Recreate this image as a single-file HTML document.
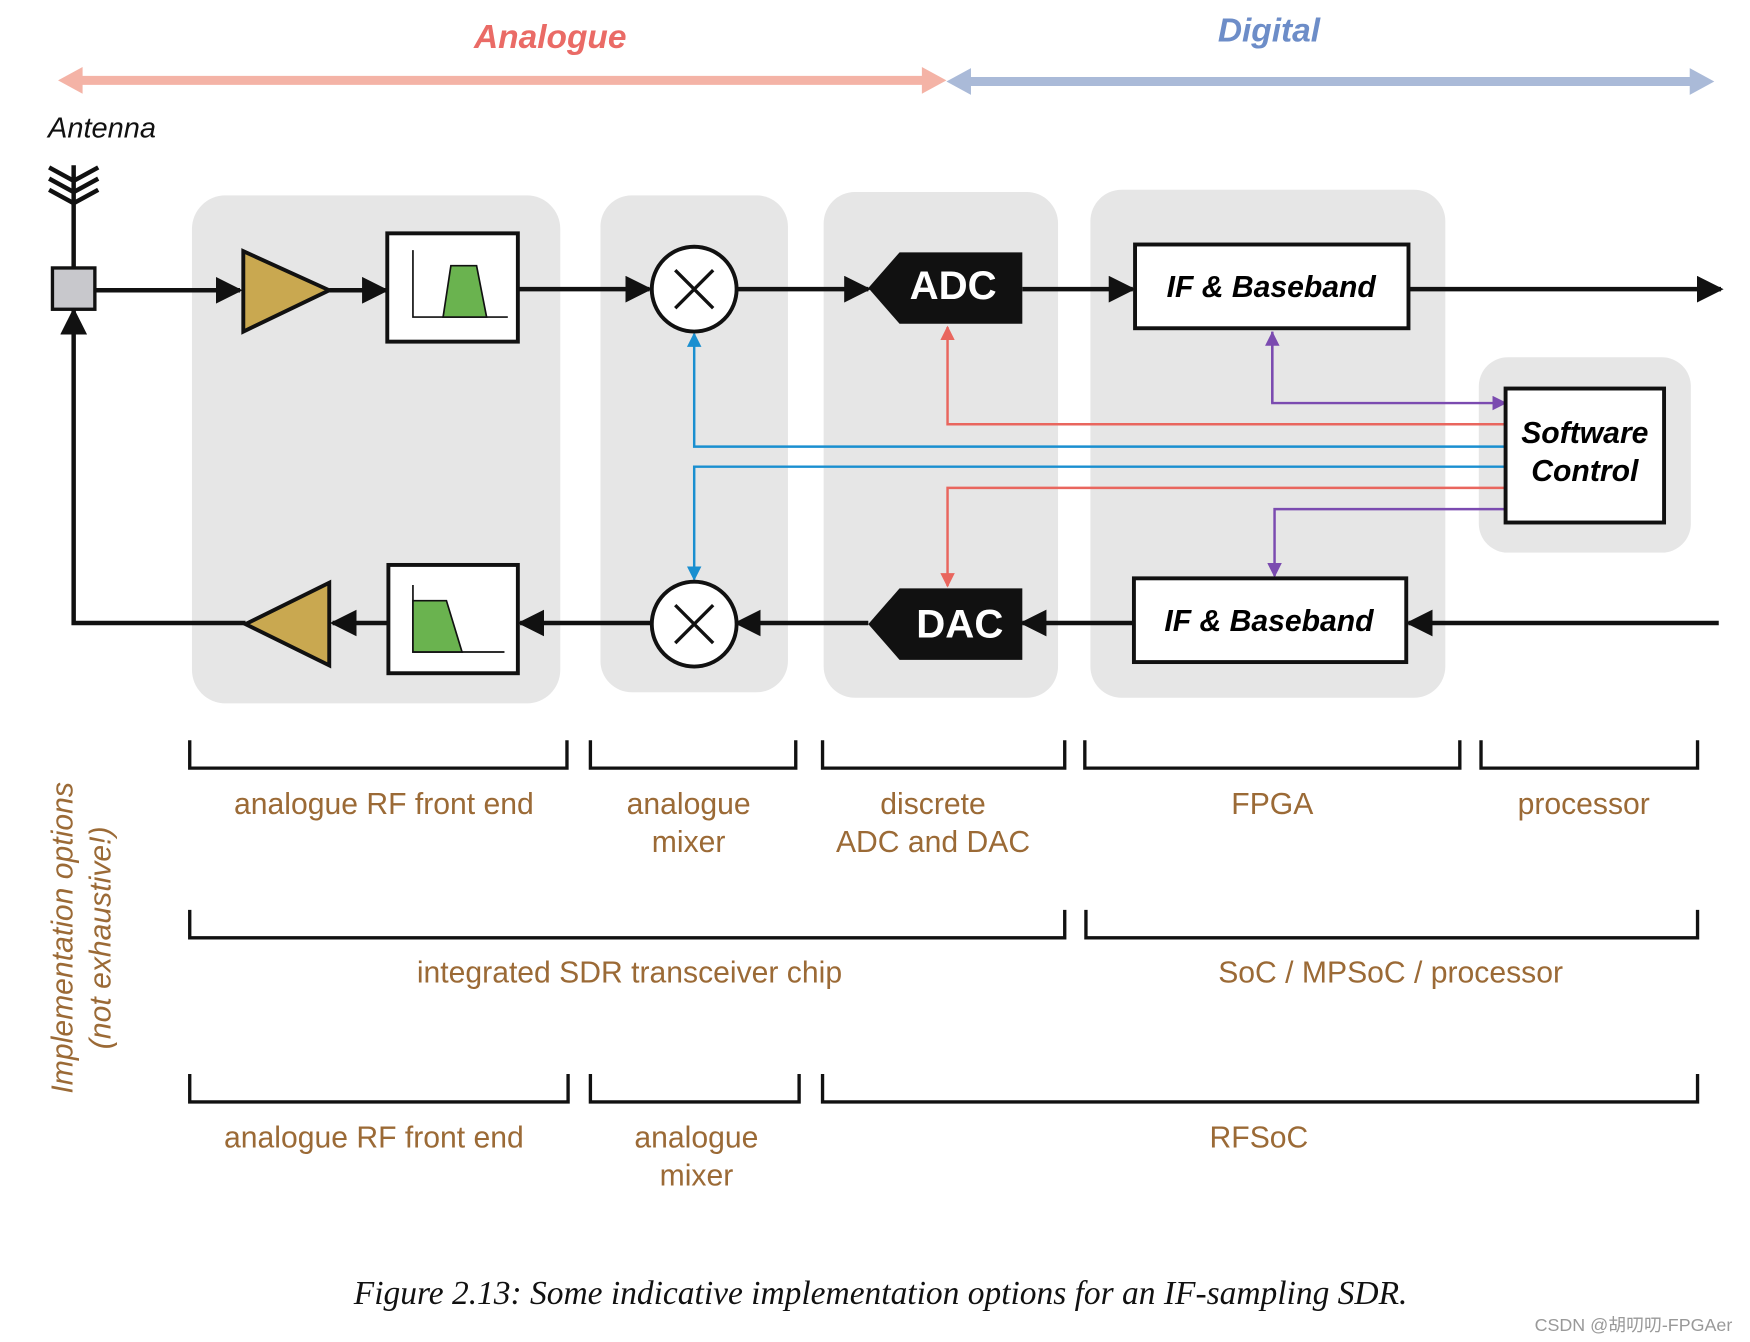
<!DOCTYPE html>
<html><head><meta charset="utf-8"><style>html,body{margin:0;padding:0;background:#fff}svg{display:block}</style></head>
<body>
<svg width="1750" height="1342" viewBox="0 0 1568 1202" preserveAspectRatio="none" xmlns="http://www.w3.org/2000/svg" font-family="Liberation Sans, sans-serif">
<defs>
<marker id="ab" viewBox="0 0 10 10" markerWidth="24" markerHeight="24" refX="9" refY="5" orient="auto" markerUnits="userSpaceOnUse"><path d="M0,0 L10,5 L0,10z" fill="#111"/></marker>
<marker id="ar" viewBox="0 0 10 10" markerWidth="13" markerHeight="13" refX="9" refY="5" orient="auto" markerUnits="userSpaceOnUse"><path d="M0,0 L10,5 L0,10z" fill="#e9665e"/></marker>
<marker id="abl" viewBox="0 0 10 10" markerWidth="13" markerHeight="13" refX="9" refY="5" orient="auto" markerUnits="userSpaceOnUse"><path d="M0,0 L10,5 L0,10z" fill="#1a8fd0"/></marker>
<marker id="ap" viewBox="0 0 10 10" markerWidth="13" markerHeight="13" refX="9" refY="5" orient="auto" markerUnits="userSpaceOnUse"><path d="M0,0 L10,5 L0,10z" fill="#7b4bb0"/></marker>
</defs>
<text x="493" y="43" text-anchor="middle" font-size="30" font-weight="bold" font-style="italic" fill="#ea6b66">Analogue</text>
<text x="1137" y="37" text-anchor="middle" font-size="30" font-weight="bold" font-style="italic" fill="#6d8dc8">Digital</text>
<line x1="70" y1="72" x2="830" y2="72" stroke="#f4b3a6" stroke-width="8"/>
<path d="M52,72 L74,60 L74,84z" fill="#f4b3a6"/><path d="M848,72 L826,60 L826,84z" fill="#f4b3a6"/>
<line x1="866" y1="73" x2="1518" y2="73" stroke="#aabad8" stroke-width="8"/>
<path d="M848,73 L870,61 L870,85z" fill="#aabad8"/><path d="M1536,73 L1514,61 L1514,85z" fill="#aabad8"/>
<text x="43" y="123" font-size="26" font-style="italic" fill="#111">Antenna</text>
<g stroke="#111" stroke-width="4" fill="none">
<line x1="66" y1="148" x2="66" y2="240"/>
<path d="M44,150 L66,162 L88,150 M44,160 L66,172 L88,160 M44,170 L66,182 L88,170"/>
</g>
<g fill="#e6e6e6">
<rect x="172" y="175" width="330" height="455" rx="30"/>
<rect x="538" y="175" width="168" height="445" rx="28"/>
<rect x="738" y="172" width="210" height="453" rx="28"/>
<rect x="977" y="170" width="318" height="455" rx="28"/>
<rect x="1325" y="320" width="190" height="175" rx="26"/>
</g>
<rect x="47" y="240" width="38" height="37" fill="#c8c8cc" stroke="#111" stroke-width="3"/>
<g fill="none" stroke-width="2.2">
<path d="M1349,380 H849 V293" stroke="#e9665e" marker-end="url(#ar)"/>
<path d="M1349,437 H849 V525" stroke="#e9665e" marker-end="url(#ar)"/>
<path d="M1349,400 H622 V299" stroke="#1a8fd0" marker-end="url(#abl)"/>
<path d="M1349,418 H622 V519" stroke="#1a8fd0" marker-end="url(#abl)"/>
<path d="M1140,297 V361 H1349" stroke="#7b4bb0" marker-end="url(#ap)"/>
<path d="M1140,361 V298" stroke="#7b4bb0" marker-end="url(#ap)"/>
<path d="M1349,456 H1142 V516" stroke="#7b4bb0" marker-end="url(#ap)"/>
</g>
<g stroke="#111" stroke-width="4" fill="none">
<line x1="85" y1="260" x2="215" y2="260" marker-end="url(#ab)"/>
<line x1="295" y1="260" x2="346" y2="260" marker-end="url(#ab)"/>
<line x1="464" y1="259" x2="582" y2="259" marker-end="url(#ab)"/>
<line x1="660" y1="259" x2="778" y2="259" marker-end="url(#ab)"/>
<line x1="916" y1="259" x2="1015" y2="259" marker-end="url(#ab)"/>
<line x1="1262" y1="259" x2="1542" y2="259" marker-end="url(#ab)"/>
<line x1="1540" y1="558" x2="1262" y2="558" marker-end="url(#ab)"/>
<line x1="1016" y1="558" x2="916" y2="558" marker-end="url(#ab)"/>
<line x1="778" y1="558" x2="660" y2="558" marker-end="url(#ab)"/>
<line x1="583" y1="558" x2="466" y2="558" marker-end="url(#ab)"/>
<line x1="348" y1="558" x2="298" y2="558" marker-end="url(#ab)"/>
<path d="M220,558 H66 V278" marker-end="url(#ab)"/>
</g>
<path d="M218,225 L295,260 L218,297z" fill="#c9a850" stroke="#111" stroke-width="3.5"/>
<path d="M295,522 L220,559 L295,596z" fill="#c9a850" stroke="#111" stroke-width="3.5"/>
<rect x="347" y="209" width="117" height="97" fill="#fff" stroke="#111" stroke-width="3.5"/>
<path d="M370,224 V284 H455" stroke="#111" stroke-width="1.5" fill="none"/>
<path d="M397,284 L404,238 L427,238 L436,284z" fill="#6ab34f" stroke="#111" stroke-width="1.5"/>
<rect x="348" y="506" width="116" height="97" fill="#fff" stroke="#111" stroke-width="3.5"/>
<path d="M370,524 V584 H452" stroke="#111" stroke-width="1.5" fill="none"/>
<path d="M370,584 L370,538 L400,538 L414,584z" fill="#6ab34f" stroke="#111" stroke-width="1.5"/>
<g stroke="#111" stroke-width="3.5" fill="#fff">
<circle cx="622" cy="259" r="38"/><circle cx="622" cy="559" r="38"/>
</g>
<g stroke="#111" stroke-width="3">
<path d="M605,242 L639,276 M639,242 L605,276"/><path d="M605,542 L639,576 M639,542 L605,576"/>
</g>
<path d="M778,258 L806,226 H916 V290 H806z" fill="#111"/>
<text x="854" y="268" text-anchor="middle" font-size="36" font-weight="bold" fill="#fff">ADC</text>
<path d="M778,559 L806,527 H916 V591 H806z" fill="#111"/>
<text x="860" y="571" text-anchor="middle" font-size="36" font-weight="bold" fill="#fff">DAC</text>
<rect x="1017" y="219" width="245" height="75" fill="#fff" stroke="#111" stroke-width="3.5"/>
<text x="1139" y="266" text-anchor="middle" font-size="27" font-weight="bold" font-style="italic">IF &amp; Baseband</text>
<rect x="1016" y="518" width="244" height="75" fill="#fff" stroke="#111" stroke-width="3.5"/>
<text x="1137" y="565" text-anchor="middle" font-size="27" font-weight="bold" font-style="italic">IF &amp; Baseband</text>
<rect x="1349" y="348" width="142" height="120" fill="#fff" stroke="#111" stroke-width="3.5"/>
<text x="1420" y="397" text-anchor="middle" font-size="27" font-weight="bold" font-style="italic">Software</text>
<text x="1420" y="431" text-anchor="middle" font-size="27" font-weight="bold" font-style="italic">Control</text>
<g stroke="#111" stroke-width="3" fill="none">
<path d="M170,663 V688 H508 V663"/><path d="M529,663 V688 H713 V663"/><path d="M737,663 V688 H954 V663"/><path d="M972,663 V688 H1308 V663"/><path d="M1327,663 V688 H1521 V663"/>
<path d="M170,815 V840 H954 V815"/><path d="M973,815 V840 H1521 V815"/>
<path d="M170,962 V987 H509 V962"/><path d="M529,962 V987 H716 V962"/><path d="M737,962 V987 H1521 V962"/>
</g>
<g font-size="27" fill="#9b6a36" text-anchor="middle">
<text x="344" y="729">analogue RF front end</text>
<text x="617" y="729">analogue</text><text x="617" y="763">mixer</text>
<text x="836" y="729">discrete</text><text x="836" y="763">ADC and DAC</text>
<text x="1140" y="729">FPGA</text>
<text x="1419" y="729">processor</text>
<text x="564" y="880">integrated SDR transceiver chip</text>
<text x="1246" y="880">SoC / MPSoC / processor</text>
<text x="335" y="1028">analogue RF front end</text>
<text x="624" y="1028">analogue</text><text x="624" y="1062">mixer</text>
<text x="1128" y="1028">RFSoC</text>
</g>
<g font-size="27" fill="#9b6a36" font-style="italic" text-anchor="middle">
<text transform="translate(65,840) rotate(-90)">Implementation options</text>
<text transform="translate(99,840) rotate(-90)">(not exhaustive!)</text>
</g>
<text x="789" y="1168" text-anchor="middle" font-family="Liberation Serif, serif" font-style="italic" font-size="30" fill="#111">Figure 2.13:  Some indicative implementation options for an IF-sampling SDR.</text>
<text x="1375" y="1192" font-size="16" fill="#999" font-family="Liberation Sans, Noto Sans CJK SC, sans-serif">CSDN @胡叨叨-FPGAer</text>
</svg>
</body></html>
